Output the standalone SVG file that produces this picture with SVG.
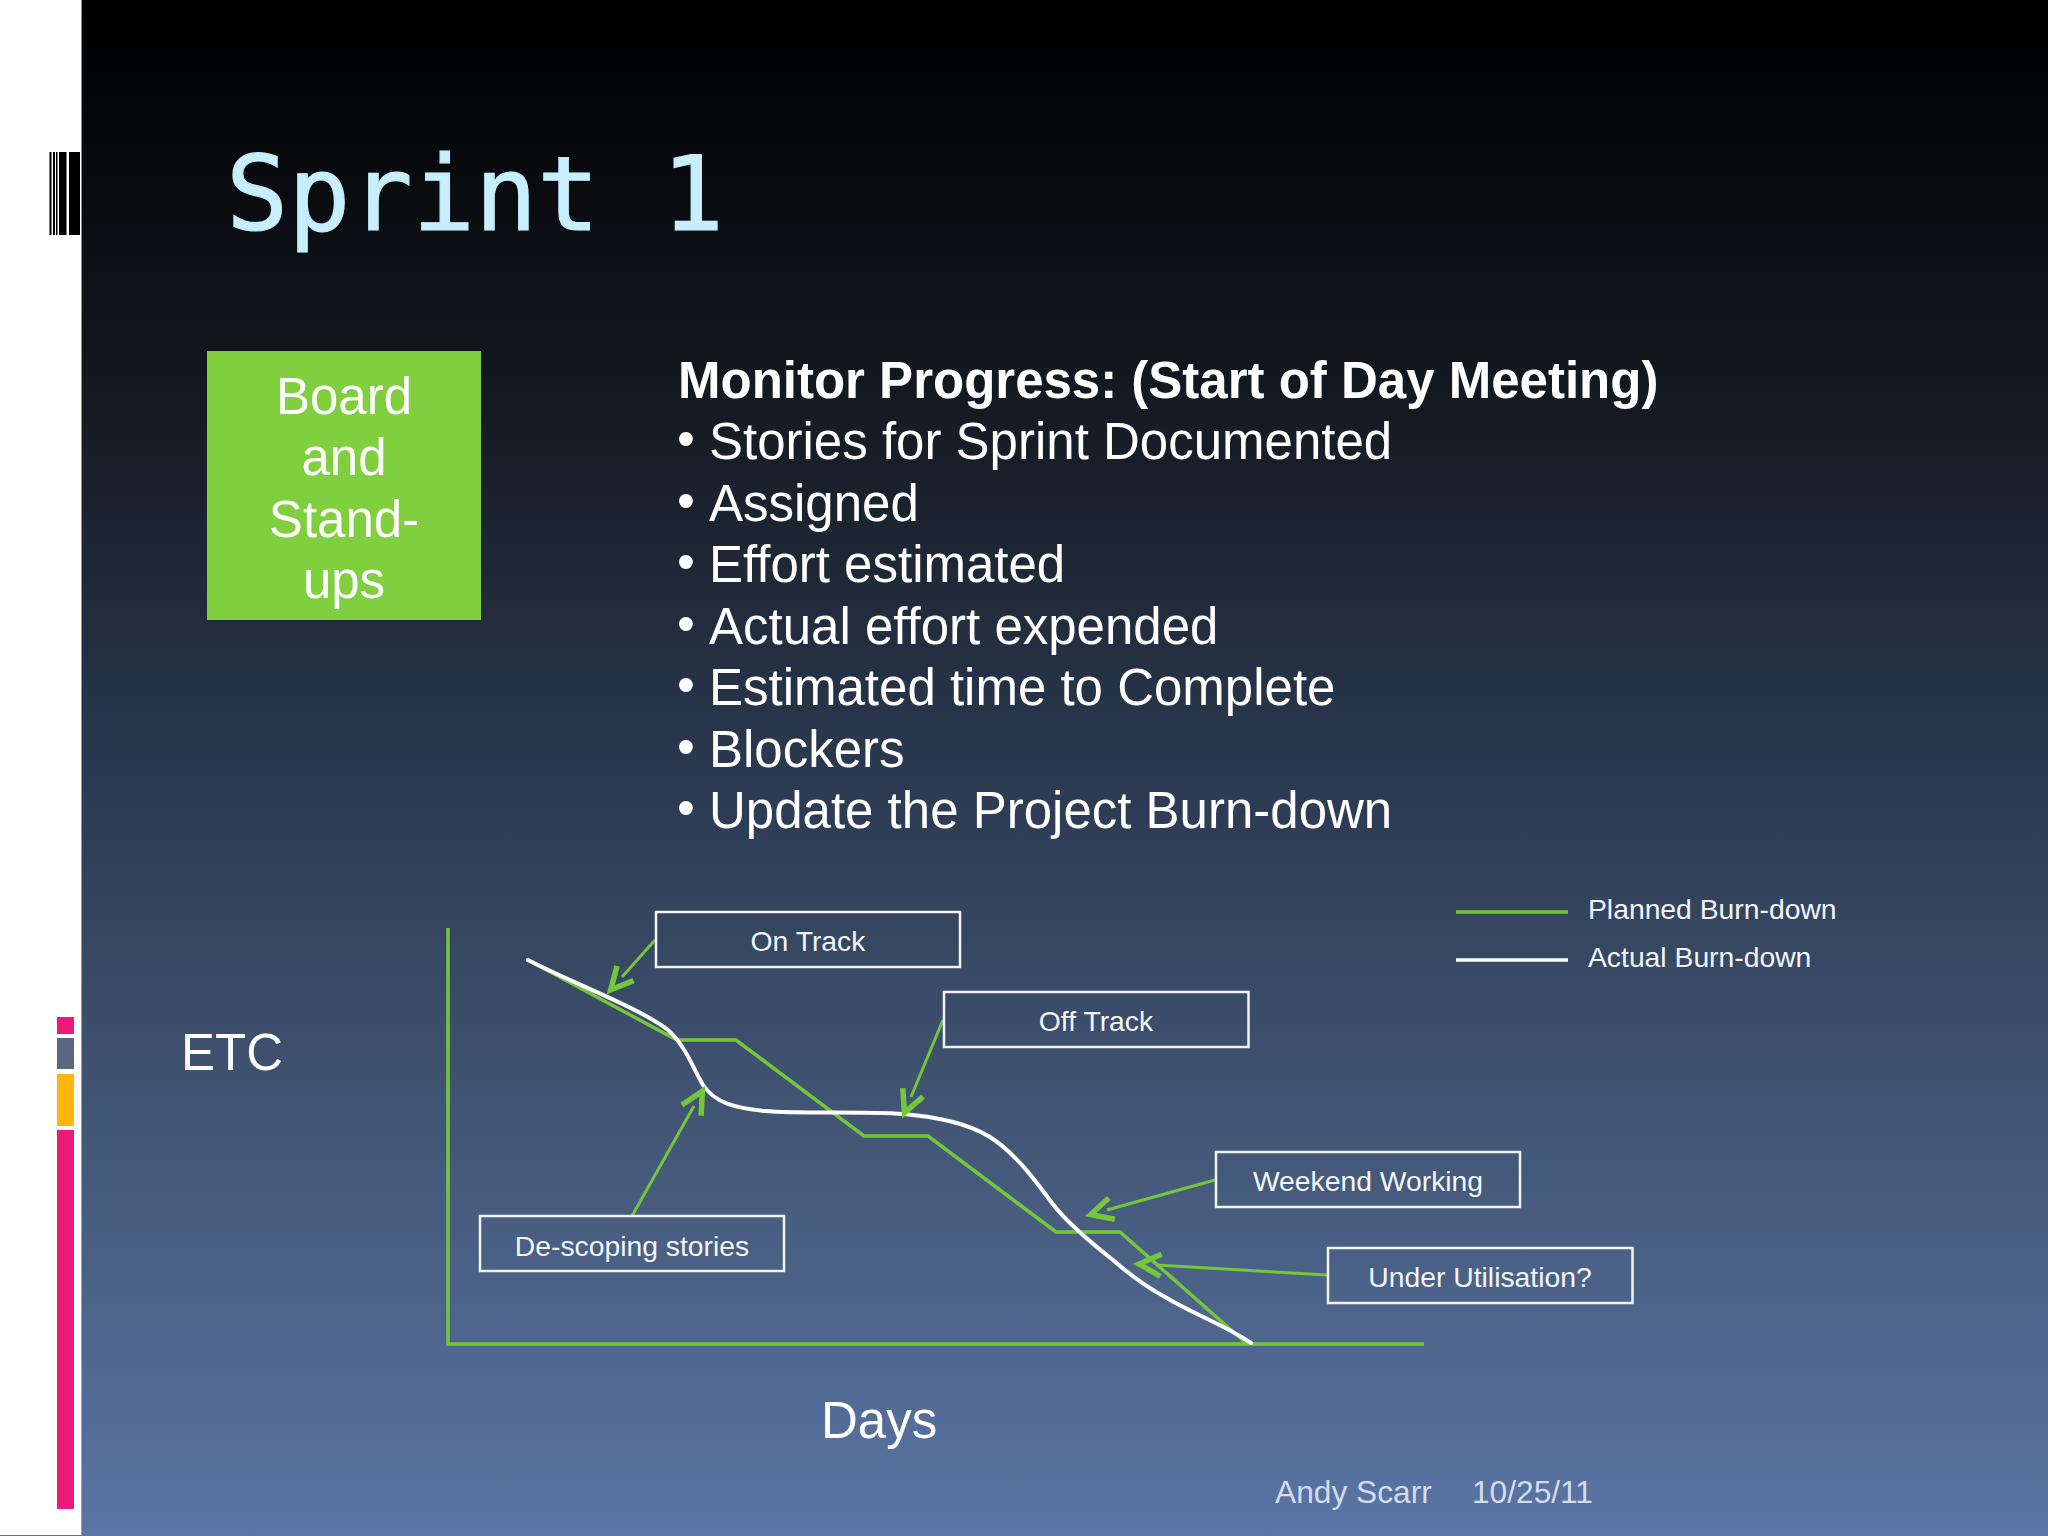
<svg xmlns="http://www.w3.org/2000/svg" width="2048" height="1536" viewBox="0 0 2048 1536">
<style>
.s{font-family:"Liberation Sans",Arial,sans-serif;fill:#fff}
.b{font-size:51px}
.l{font-size:28.3px;text-anchor:middle;fill:#f2f6fb}
.box{fill:none;stroke:#eef4f8;stroke-width:2.5}
.g{fill:none;stroke:#74c63c;stroke-width:3.5;stroke-linejoin:miter}
.a{fill:none;stroke:#74c63c;stroke-width:3;marker-end:url(#h)}
</style>
<defs>
<linearGradient id="bg" x1="0" y1="0" x2="0" y2="1">
<stop offset="0" stop-color="#000"/><stop offset=".04" stop-color="#020304"/><stop offset=".25" stop-color="#14181f"/><stop offset=".5" stop-color="#2b3950"/><stop offset=".75" stop-color="#445878"/><stop offset="1" stop-color="#5a75a6"/>
</linearGradient>
<marker id="h" markerUnits="userSpaceOnUse" viewBox="-45 -15 55 30" markerWidth="55" markerHeight="30" refX="-17" refY="0" orient="auto">
<path d="M-22,-11 L0,0 L-22,11" fill="none" stroke="#74c63c" stroke-width="5.5"/>
</marker>
</defs>
<rect id="background" width="2048" height="1536" fill="url(#bg)"/>
<g id="sidebar">
<rect width="81.5" height="1535" fill="#fff"/>
<rect x="81" width="1" height="1536" fill="#8b93a0" opacity=".6"/>
<rect x="57" y="1017" width="17" height="17" fill="#ec1a78"/>
<rect x="57" y="1038" width="17" height="31" fill="#5b6780"/>
<rect x="57" y="1074" width="17" height="52" fill="#ffb60a"/>
<rect x="57" y="1130" width="17" height="379" fill="#ec1a78"/>
</g>
<g id="barcode" fill="#000">
<rect x="49.5" y="152" width="2" height="83"/><rect x="53" y="152" width="2" height="83"/><rect x="56" y="152" width="1.5" height="83"/><rect x="59" y="152" width="7.5" height="83"/><rect x="69" y="152" width="11" height="83"/>
</g>
<text id="title" x="226" y="230" font-family="'DejaVu Sans Mono',monospace" font-size="103.4" fill="#c6eefc" stroke="#c6eefc" stroke-width="1.2">Sprint 1</text>
<g id="board">
<rect x="207" y="351" width="274" height="269" fill="#80cf3e"/>
<g class="s b" text-anchor="middle"><text x="344" y="414">Board</text><text x="344" y="475">and</text><text x="344" y="537">Stand-</text><text x="344" y="598">ups</text></g>
</g>
<g id="body" class="s b">
<text x="678" y="398" font-weight="700">Monitor Progress: (Start of Day Meeting)</text>
<text x="677" y="456">•</text><text x="709" y="459">Stories for Sprint Documented</text>
<text x="677" y="518">•</text><text x="709" y="521">Assigned</text>
<text x="677" y="579">•</text><text x="709" y="582">Effort estimated</text>
<text x="677" y="641">•</text><text x="709" y="644">Actual effort expended</text>
<text x="677" y="702">•</text><text x="709" y="705">Estimated time to Complete</text>
<text x="677" y="764">•</text><text x="709" y="767">Blockers</text>
<text x="677" y="825">•</text><text x="709" y="828">Update the Project Burn-down</text>
</g>
<g id="axes-labels" class="s b">
<text x="181" y="1070">ETC</text><text x="821" y="1438">Days</text>
</g>
<g id="connectors">
<path class="g" d="M448 928V1344H1424"/>
<path class="g" d="M528 960L677 1040H736L864 1136H928L1056 1232H1120L1247 1344"/>
<path fill="none" stroke="#fff" stroke-width="4" stroke-linecap="round" d="M528 960C570 982 640 1008 668 1030C685 1045 692 1066 703 1085C715 1103 735 1108 765 1111C800 1114 860 1111 904 1114C935 1117 965 1122 990 1137C1015 1153 1035 1180 1052 1203C1064 1219 1090 1242 1113 1260C1130 1275 1145 1286 1165 1297C1195 1315 1225 1325 1251 1343"/>
<path class="a" d="M655 940L622 977"/>
<path class="a" d="M632 1216L694 1106"/>
<path class="a" d="M943 1020L911 1097"/>
<path class="a" d="M1215 1180L1107 1210"/>
<path class="a" d="M1327 1275L1156 1265"/>
</g>
<g id="on-track"><rect class="box" x="656" y="912" width="304" height="55"/><text class="s l" x="808" y="951">On Track</text></g>
<g id="off-track"><rect class="box" x="944" y="992" width="304.5" height="55"/><text class="s l" x="1096" y="1031">Off Track</text></g>
<g id="de-scoping"><rect class="box" x="480" y="1216" width="304" height="55"/><text class="s l" x="632" y="1256">De-scoping stories</text></g>
<g id="weekend"><rect class="box" x="1216" y="1152" width="304" height="55"/><text class="s l" x="1368" y="1191">Weekend Working</text></g>
<g id="under"><rect class="box" x="1328" y="1248" width="304.5" height="55"/><text class="s l" x="1480" y="1287">Under Utilisation?</text></g>
<g id="legend">
<line x1="1456" y1="912" x2="1568" y2="912" stroke="#74c63c" stroke-width="3.5"/>
<line x1="1456" y1="960" x2="1568" y2="960" stroke="#fff" stroke-width="3.5"/>
<text class="s" x="1588" y="919" font-size="28.3" style="fill:#f2f6fb">Planned Burn-down</text>
<text class="s" x="1588" y="967" font-size="28.3" style="fill:#f2f6fb">Actual Burn-down</text>
</g>
<g id="footer" class="s" font-size="31.7">
<text x="1275" y="1503" style="fill:#d3dcea">Andy Scarr</text><text x="1472" y="1503" style="fill:#d3dcea">10/25/11</text>
</g>
</svg>
